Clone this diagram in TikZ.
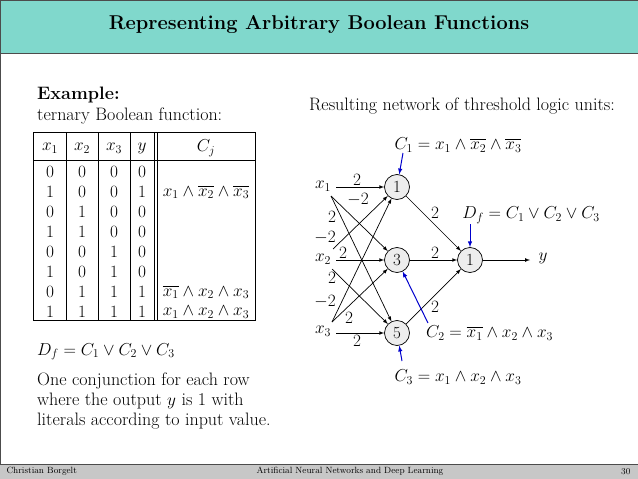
\documentclass[tikz,border=0pt]{standalone}
\usepackage{amsmath}
\begin{document}
\begin{tikzpicture}[x=1pt,y=-1pt,
  txt/.style={font=\fontsize{17}{20}\selectfont,inner sep=0pt},
  prose/.style={font=\fontsize{18}{22}\selectfont,inner sep=0pt,anchor=base west},
  wt/.style={font=\fontsize{17}{20}\selectfont,inner sep=1pt},
  tlu/.style={circle,draw,line width=0.7pt,fill=black!7,minimum size=25pt,inner sep=0pt,font=\fontsize{17}{20}\selectfont},
  ed/.style={-latex,line width=0.7pt},
  bl/.style={-latex,blue!80!black,line width=1pt}]
\useasboundingbox (0,0) rectangle (638,479);
\fill[fill={rgb,255:red,128;green,216;blue,204}] (0,0) rectangle (638,53);
\draw[black!70] (0,53) -- (638,53);
\draw[black!70] (0,0) rectangle (638,479);
\node[font=\fontsize{20}{24}\selectfont\bfseries] (title) at (319,25) {Representing Arbitrary Boolean Functions};
\fill[black!22] (0,464) rectangle (638,479);
\draw[black!70] (0,464) -- (638,464);
\node[font=\fontsize{9}{10}\selectfont,anchor=west] (fa) at (3,471.5) {Christian Borgelt};
\node[font=\fontsize{9}{10}\selectfont] (fb) at (350,471.5) {Artificial Neural Networks and Deep Learning};
\node[font=\fontsize{9}{10}\selectfont,anchor=east] (fc) at (634,471.5) {30};
% left text
\node[prose,font=\fontsize{18}{22}\selectfont\bfseries] (ex) at (37,99) {Example:};
\node[prose] (tb) at (37,120) {ternary Boolean function:};
% table
\begin{scope}[line width=0.7pt]
\draw (33,132) rectangle (255,320);
\draw (33,160) -- (255,160);
\draw (66,132) -- (66,320) (98,132) -- (98,320) (130,132) -- (130,320) (154,132) -- (154,320) (157,132) -- (157,320);
\end{scope}
\foreach \x/\t in {50/x_1,82/x_2,114/x_3,142/y,206/C_j}
  \node[txt] at (\x,148) {$\t$};
\foreach \a/\b/\c/\d [count=\i from 0] in {0/0/0/0,1/0/0/1,0/1/0/0,1/1/0/0,0/0/1/0,1/0/1/0,0/1/1/1,1/1/1/1}{
  \node[txt] at (50,172+20*\i) {$\a$};
  \node[txt] at (82,172+20*\i) {$\b$};
  \node[txt] at (114,172+20*\i) {$\c$};
  \node[txt] at (142,172+20*\i) {$\d$};}
\node[txt] (c1t) at (206,192) {$x_1\land\overline{x_2}\land\overline{x_3}$};
\node[txt] (c2t) at (206,292) {$\overline{x_1}\land x_2\land x_3$};
\node[txt] (c3t) at (206,312) {$x_1\land x_2\land x_3$};
\node[prose] (df) at (37,355) {$D_f=C_1\lor C_2\lor C_3$};
\node[prose] (l1) at (37,385) {One conjunction for each row};
\node[prose] (l2) at (37,405) {where the output $y$ is 1 with};
\node[prose] (l3) at (37,425) {literals according to input value.};
\node[prose] (rn) at (309,110) {Resulting network of threshold logic units:};
% network
\node[txt] (x1) at (323,186) {$x_1$};
\node[txt] (x2) at (323,259) {$x_2$};
\node[txt] (x3) at (323,331) {$x_3$};
\node[tlu] (n1) at (397,187) {1};
\node[tlu] (n3) at (397,260) {3};
\node[tlu] (n5) at (397,333) {5};
\node[tlu] (no) at (470,260) {1};
\node[txt] (y) at (543,258) {$y$};
\coordinate (a1) at (336,187);
\coordinate (b1) at (331,196);
\coordinate (a2) at (336,260);
\coordinate (b2u) at (333,249);
\coordinate (b2d) at (332,269);
\coordinate (a3) at (336,333);
\coordinate (b3) at (332,322);
\draw[ed] (a1) -- (n1);
\draw[ed] (b1) -- (n3);
\draw[ed] (b1) -- (n5);
\draw[ed] (b2u) -- (n1);
\draw[ed] (a2) -- (n3);
\draw[ed] (b2d) -- (n5);
\draw[ed] (b3) -- (n1);
\draw[ed] (b3) -- (n3);
\draw[ed] (a3) -- (n5);
\draw[ed] (n1) -- (no);
\draw[ed] (n3) -- (no);
\draw[ed] (n5) -- (no);
\draw[ed] (no) -- (530,260) coordinate (ye);
\foreach \p/\t in {{357,180}/2,{358,200}/-2,{332,217}/2,{325,238}/-2,{343,253}/2,{332,278}/2,{325,302}/-2,{349,318}/2,{357,341}/2,{435,213}/2,{435,253}/2,{435,307}/2}
  \node[wt] at (\p) {$\t$};
\node[txt] (C1) at (458,145) {$C_1=x_1\land\overline{x_2}\land\overline{x_3}$};
\node[txt] (Df) at (531,215) {$D_f=C_1\lor C_2\lor C_3$};
\node[txt,anchor=west] (C2) at (426,333) {$C_2=\overline{x_1}\land x_2\land x_3$};
\node[txt] (C3) at (458,377) {$C_3=x_1\land x_2\land x_3$};
\draw[bl] (403,153) -- (n1);
\draw[bl] (470,224) -- (no);
\draw[bl] (428,323) -- (n3);
\draw[bl] (402,361) -- (n5);
\end{tikzpicture}
\end{document}
